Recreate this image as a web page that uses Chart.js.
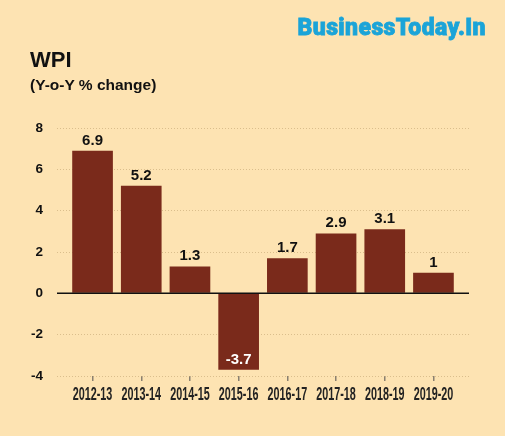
<!DOCTYPE html>
<html>
<head>
<meta charset="utf-8">
<script src="https://cdn.jsdelivr.net/npm/chart.js@4.4.1/dist/chart.umd.min.js"></script>
<style>
  html, body { margin:0; padding:0; background:#fde3b2; }
  #wrap { position:relative; width:505px; height:436px; overflow:hidden; background:#fde3b2; }
  #c { position:absolute; left:0; top:0; }
  .t { position:absolute; line-height:1; white-space:nowrap; font-family:'Liberation Sans', Arial, sans-serif; color:#111; }
  #title { left:30px; top:49px; font-size:22px; font-weight:bold; }
  #sub { left:30px; top:77px; font-size:15.5px; font-weight:bold; letter-spacing:0px; }
  #logo { right:19px; top:16px; font-size:23px; font-weight:900; font-family:Roboto, 'Liberation Sans', sans-serif; color:#1ba4d8; letter-spacing:0.4px; -webkit-text-stroke:0.8px #1ba4d8; }
</style>
</head>
<body>
<div id="wrap">
  <canvas id="c" width="505" height="436"></canvas>
  <div class="t" id="title">WPI</div>
  <div class="t" id="sub">(Y-o-Y % change)</div>
  <div class="t" id="logo">BusinessToday.In</div>
</div>
<script>
const categories = ['2012-13','2013-14','2014-15','2015-16','2016-17','2017-18','2018-19','2019-20'];
const wpiValues = [6.9, 5.2, 1.3, -3.7, 1.7, 2.9, 3.1, 1];
const yTicks = [-4, -2, 0, 2, 4, 6, 8];
const valueLabels = ['6.9','5.2','1.3','-3.7','1.7','2.9','3.1','1'];

const BAR = '#7a2a1b';
const GRID = 'rgba(190,160,110,0.55)';

const dataPoints = categories.map((c, i) => ({ x: i, y: wpiValues[i] }));

const overlay = {
  id: 'overlay',
  afterDatasetsDraw(chart) {
    const ctx = chart.ctx;
    const ys = chart.scales.y, xs = chart.scales.x;
    const area = chart.chartArea;
    // zero line
    ctx.save();
    ctx.strokeStyle = '#111';
    ctx.lineWidth = 1.5;
    const y0 = ys.getPixelForValue(0);
    ctx.beginPath();
    ctx.moveTo(area.left, y0);
    ctx.lineTo(area.right, y0);
    ctx.stroke();
    // value labels
    ctx.font = "bold 15px 'Liberation Sans', Arial, sans-serif";
    ctx.textAlign = 'center';
    ctx.textBaseline = 'alphabetic';
    chart.getDatasetMeta(0).data.forEach((bar, i) => {
      const v = wpiValues[i];
      ctx.fillStyle = v >= 0 ? '#111' : '#fff';
      ctx.fillText(valueLabels[i], bar.x, bar.y - 6);
    });
    // category labels (condensed)
    ctx.fillStyle = '#222';
    ctx.font = "bold 18px 'Liberation Sans', Arial, sans-serif";
    categories.forEach((c, i) => {
      const px = xs.getPixelForValue(i);
      ctx.save();
      ctx.translate(px, area.bottom + 24);
      ctx.scale(0.6, 1);
      ctx.fillText(c, 0, 0);
      ctx.restore();
    });
    ctx.restore();
  }
};

new Chart(document.getElementById('c'), {
  type: 'bar',
  data: {
    datasets: [{
      data: dataPoints,
      backgroundColor: BAR,
      borderWidth: 0,
      categoryPercentage: 1,
      barPercentage: 0.835
    }]
  },
  options: {
    responsive: false,
    animation: false,
    events: [],
    layout: { padding: { top: 128, right: 36, left: 0, bottom: 0 } },
    plugins: { legend: { display: false }, tooltip: { enabled: false } },
    scales: {
      x: {
        type: 'linear',
        offset: false,
        min: -0.73,
        max: 7.73,
        afterBuildTicks: (s) => { s.ticks = categories.map((c, i) => ({ value: i })); },
        afterFit: (s) => { s.height = 60; },
        ticks: { display: false },
        grid: { offset: false, drawOnChartArea: false, drawTicks: true, tickLength: 5, color: '#8a8070', lineWidth: 1.5 },
        border: { display: false }
      },
      y: {
        min: -4,
        max: 8,
        afterBuildTicks: (s) => { s.ticks = yTicks.map(v => ({ value: v })); },
        afterFit: (s) => { s.width = 57; },
        ticks: {
          padding: 14,
          color: '#111',
          font: { family: "'Liberation Sans', Arial, sans-serif", size: 13.5, weight: 'bold' }
        },
        grid: {
          drawTicks: false,
          color: (c) => (c.tick && c.tick.value === 0) ? 'rgba(0,0,0,0)' : GRID,
          lineWidth: 1
        },
        border: { display: false, dash: [1, 2] }
      }
    }
  },
  plugins: [overlay]
});
</script>
</body>
</html>
